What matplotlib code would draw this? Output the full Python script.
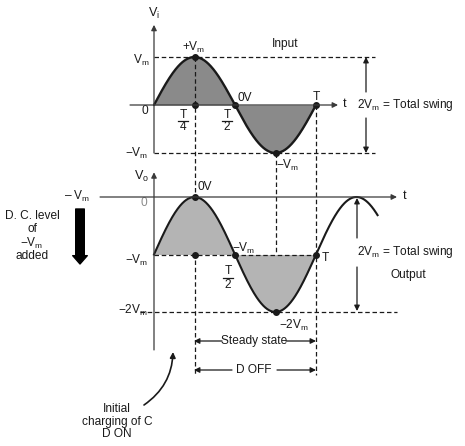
import numpy as np
import matplotlib.pyplot as plt

plt.rcParams['font.family'] = ['Liberation Sans', 'DejaVu Sans']
plt.rcParams['mathtext.fontset'] = 'custom'
plt.rcParams['mathtext.rm'] = 'Liberation Sans'
plt.rcParams['mathtext.it'] = 'Liberation Sans'

# waveform parameters, in units of Vm and T
Vm = 1.0
T = 1.0
dc_shift = -1.0          # clamper adds a d.c. level of -Vm
t_in_end = 1.0
t_out_end = 1.38

# marked points on the waveforms
in_pts_t = [0.25, 0.25, 0.5, 0.75, 1.0]
in_pts_v = [1, 0, 0, -1, 0]
out_pts_t = [0.25, 0.25, 0.5, 0.75, 1.0]
out_pts_v = [0, -1, -1, -2, -1]

INK = '#1a1a1a'
AX = '#3a3a3a'
FILL_IN = '#8a8a8a'
FILL_OUT = '#b4b4b4'
DASH = (0, (3.6, 2.2))
FS = 8.6

W, H = 465, 446
fig = plt.figure(figsize=(W / 100, H / 100), dpi=100)

# canvas in pixel units for labels and annotations
cv = fig.add_axes([0, 0, 1, 1])
cv.set_xlim(0, W)
cv.set_ylim(H, 0)
cv.axis('off')

# input axes: t 0..1 -> px 154..316, v 1..-1 -> px 57..153
ax_in = fig.add_axes([154 / W, 1 - 153 / H, 162 / W, 96 / H])
ax_in.set_xlim(0, 1)
ax_in.set_ylim(-1, 1)
ax_in.axis('off')
ax_in.patch.set_alpha(0)

# output axes: v 0..-2 -> px 197..312
ax_out = fig.add_axes([154 / W, 1 - 312 / H, 162 / W, 115 / H])
ax_out.set_xlim(0, 1)
ax_out.set_ylim(-2, 0)
ax_out.axis('off')
ax_out.patch.set_alpha(0)

# ---- input waveform
t = np.linspace(0, t_in_end, 400)
vi = Vm * np.sin(2 * np.pi * t / T)
ax_in.fill_between(t, 0, vi, color=FILL_IN, lw=0)
ax_in.plot(t, vi, color=INK, lw=1.7, clip_on=False, solid_capstyle='round')
ax_in.plot(in_pts_t, in_pts_v, 'o', color=INK, ms=4, clip_on=False)

arr = dict(arrowstyle='-|>', lw=0.9, color=AX, mutation_scale=8, shrinkA=0, shrinkB=0)
ax_in.annotate('', xy=(1.136, 0), xytext=(-0.148, 0), arrowprops=arr, annotation_clip=False)
ax_in.annotate('', xy=(0, 1.67), xytext=(0, -1), arrowprops=arr, annotation_clip=False)

ax_in.plot([0, 1.364], [Vm, Vm], color=INK, lw=0.9, ls=DASH, clip_on=False)
ax_in.plot([0, 1.364], [-Vm, -Vm], color=INK, lw=0.9, ls=DASH, clip_on=False)
ax_in.plot([0.25, 0.25], [Vm, -5.625], color=INK, lw=0.9, ls=DASH, clip_on=False)
ax_in.plot([1.0, 1.0], [0, -5.625], color=INK, lw=0.9, ls=DASH, clip_on=False)
ax_in.plot([0.75, 0.75], [-Vm, -4.29], color=INK, lw=0.9, ls=DASH, clip_on=False)

# ---- output waveform
to = np.linspace(0, t_out_end, 500)
vo = Vm * np.sin(2 * np.pi * to / T) + dc_shift * Vm
m = to <= T
ax_out.fill_between(to[m], dc_shift * Vm, vo[m], color=FILL_OUT, lw=0)
ax_out.plot(to, vo, color=INK, lw=1.5, clip_on=False)
ax_out.plot(out_pts_t, out_pts_v, 'o', color=INK, ms=4, clip_on=False)

ax_out.annotate('', xy=(1.5, 0), xytext=(-0.333, 0), arrowprops=arr, annotation_clip=False)
ax_out.annotate('', xy=(0, 0.43), xytext=(0, -2.66), arrowprops=arr, annotation_clip=False)
ax_out.plot([0, 1.0], [-Vm, -Vm], color=INK, lw=0.9, ls=DASH, clip_on=False)
ax_out.plot([-0.086, 1.5], [-2 * Vm, -2 * Vm], color=INK, lw=0.9, ls=DASH, clip_on=False)

# ---- labels
def txt(x, y, s, **kw):
    kw.setdefault('ha', 'center')
    kw.setdefault('va', 'center')
    kw.setdefault('fontsize', FS)
    kw.setdefault('color', INK)
    cv.text(x, y, s, **kw)

def frac(x, y, num, den):
    txt(x, y - 6.5, num)
    cv.plot([x - 5, x + 5], [y, y], color=INK, lw=0.9)
    txt(x, y + 6.5, den)

VM = r'V$_\mathrm{m}$'
# input
txt(154, 13, r'V$_\mathrm{i}$', fontsize=FS + 0.5)
txt(141, 60, VM)
txt(145, 111, '0')
txt(137, 153, '\u2212' + VM)
txt(194, 47, '+' + VM)
frac(183, 121, 'T', '4')
frac(227, 121, 'T', '2')
txt(245, 98, '0V')
txt(316, 97, 'T')
txt(345, 104, 't', fontsize=FS + 0.5)
txt(285, 44, 'Input')
txt(288, 165, '\u2212' + VM)
txt(357, 105, '2' + VM + ' = Total swing', ha='left')

# output
txt(142, 176, r'V$_\mathrm{o}$', fontsize=FS + 0.5)
txt(77, 196, '\u2013 ' + VM)
txt(144, 203, '0', color='#8a8a8a')
txt(137, 260, '\u2212' + VM)
txt(133, 310, '\u22122' + VM)
txt(205, 187, '0V')
txt(244, 248, '\u2212' + VM)
frac(228, 278, 'T', '2')
txt(325, 258, 'T')
txt(405, 196, 't', fontsize=FS + 0.5)
txt(408, 275, 'Output')
txt(294, 325, '\u22122' + VM)
txt(357, 252, '2' + VM + ' = Total swing', ha='left')

# d.c. level note and big arrow
txt(32, 216, 'D. C. level')
txt(32, 229, 'of')
txt(32, 243, '\u2212' + VM)
txt(32, 256, 'added')
cv.annotate('', xy=(80, 264), xytext=(80, 209),
            arrowprops=dict(arrowstyle='simple,head_length=0.6,head_width=1.05,tail_width=0.62',
                            fc='black', ec='black', mutation_scale=10, shrinkA=0, shrinkB=0))

# total swing arrows
sw = dict(arrowstyle='-|>', lw=0.9, color=INK, mutation_scale=8, shrinkA=0, shrinkB=0)
cv.annotate('', xy=(366, 57), xytext=(366, 92), arrowprops=sw)
cv.annotate('', xy=(366, 153), xytext=(366, 118), arrowprops=sw)
cv.annotate('', xy=(357, 198), xytext=(357, 238), arrowprops=sw)
cv.annotate('', xy=(357, 311), xytext=(357, 267), arrowprops=sw)

# steady state / D OFF spans
cv.annotate('', xy=(194, 341), xytext=(222, 341), arrowprops=sw)
cv.annotate('', xy=(316, 341), xytext=(286, 341), arrowprops=sw)
txt(254, 341, 'Steady state')
cv.annotate('', xy=(194, 370), xytext=(232, 370), arrowprops=sw)
cv.annotate('', xy=(316, 370), xytext=(277, 370), arrowprops=sw)
txt(254, 370, 'D OFF')

# initial charging note
txt(117, 409, 'Initial')
txt(117, 422, 'charging of C')
txt(117, 434, 'D ON')
cv.annotate('', xy=(173, 352), xytext=(144, 405),
            arrowprops=dict(arrowstyle='-|>', connectionstyle='arc3,rad=0.25', lw=1.2,
                            color=INK, mutation_scale=8, shrinkA=0, shrinkB=0))

fig.savefig('out.png', dpi=100)
